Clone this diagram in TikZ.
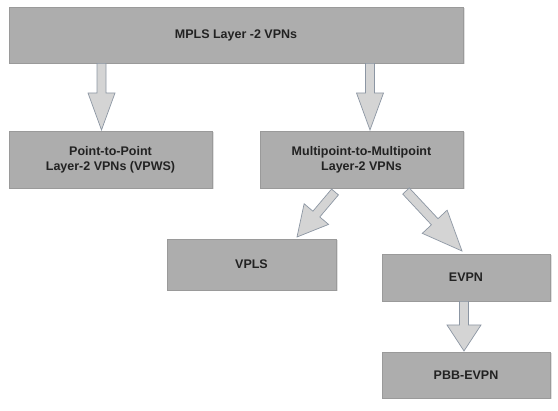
\documentclass[tikz,border=0pt]{standalone}
\usepackage{fontspec}
\setmainfont{Liberation Sans}
\usetikzlibrary{calc,shadows}
\definecolor{boxfill}{HTML}{ADADAD}
\definecolor{boxline}{HTML}{9A9A9A}
\definecolor{arrfill}{HTML}{D4D4D4}
\definecolor{arrline}{HTML}{8C96A3}
\definecolor{txt}{HTML}{222222}
\tikzset{
  box/.style={draw=boxline, line width=0.8pt, fill=boxfill, inner sep=0pt,
    align=center, text=txt, font=\fontsize{12.5}{15}\selectfont\bfseries,
    drop shadow={shadow xshift=1.5pt, shadow yshift=-1.5pt, fill=black, opacity=0.12}},
  barr/.style={draw=arrline, line width=0.7pt, fill=arrfill, line join=miter}
}
% #1 tail, #2 tip, #3 head length, #4 head half width, #5 shaft half width
\newcommand\blockarrow[5]{%
  \coordinate (hb) at ($(#2)!#3!(#1)$);
  \draw[barr] ($(#1)!#5!90:(#2)$) -- ($(hb)!#5!-90:(#1)$) -- ($(hb)!#4!-90:(#1)$)
    -- (#2) -- ($(hb)!#4!90:(#1)$) -- ($(hb)!#5!90:(#1)$) -- ($(#1)!#5!-90:(#2)$) -- cycle;
}
\begin{document}
\begin{tikzpicture}[x=1pt,y=-1pt]
\useasboundingbox (0,0) rectangle (558,411);
\node[box, minimum width=454pt, minimum height=56pt] (top) at (236,35) {MPLS Layer -2 VPNs};
\node[box, minimum width=203pt, minimum height=57pt] (p2p) at (110.5,159.5) {Point-to-Point\\Layer-2 VPNs (VPWS)};
\node[box, minimum width=203pt, minimum height=57pt] (mp) at (361.5,159.5) {Multipoint-to-Multipoint\\Layer-2 VPNs};
\node[box, minimum width=169pt, minimum height=51pt] (vpls) at (251.5,264.5) {VPLS};
\node[box, minimum width=168pt, minimum height=47pt] (evpn) at (466,277.5) {EVPN};
\node[box, minimum width=168pt, minimum height=46pt] (pbb) at (466,375) {PBB-EVPN};
% connector end points
\coordinate (a1s) at (top.south -| 101.5,0);
\coordinate (a1e) at (101.5,130);
\coordinate (a2s) at (top.south -| 370,0);
\coordinate (a2e) at (370,130);
\coordinate (a3s) at (335,192);
\coordinate (a3e) at (297,237);
\coordinate (a4s) at (406,191);
\coordinate (a4e) at (462,251);
\coordinate (a5s) at (evpn.south -| 464,0);
\coordinate (a5e) at (464,351);
\blockarrow{a1s}{a1e}{37pt}{13.5pt}{4.5pt}
\blockarrow{a2s}{a2e}{37pt}{13.5pt}{4.5pt}
\blockarrow{a3s}{a3e}{30pt}{16pt}{4.5pt}
\blockarrow{a4s}{a4e}{40pt}{17pt}{4.5pt}
\blockarrow{a5s}{a5e}{26pt}{17pt}{4.5pt}
\end{tikzpicture}
\end{document}
